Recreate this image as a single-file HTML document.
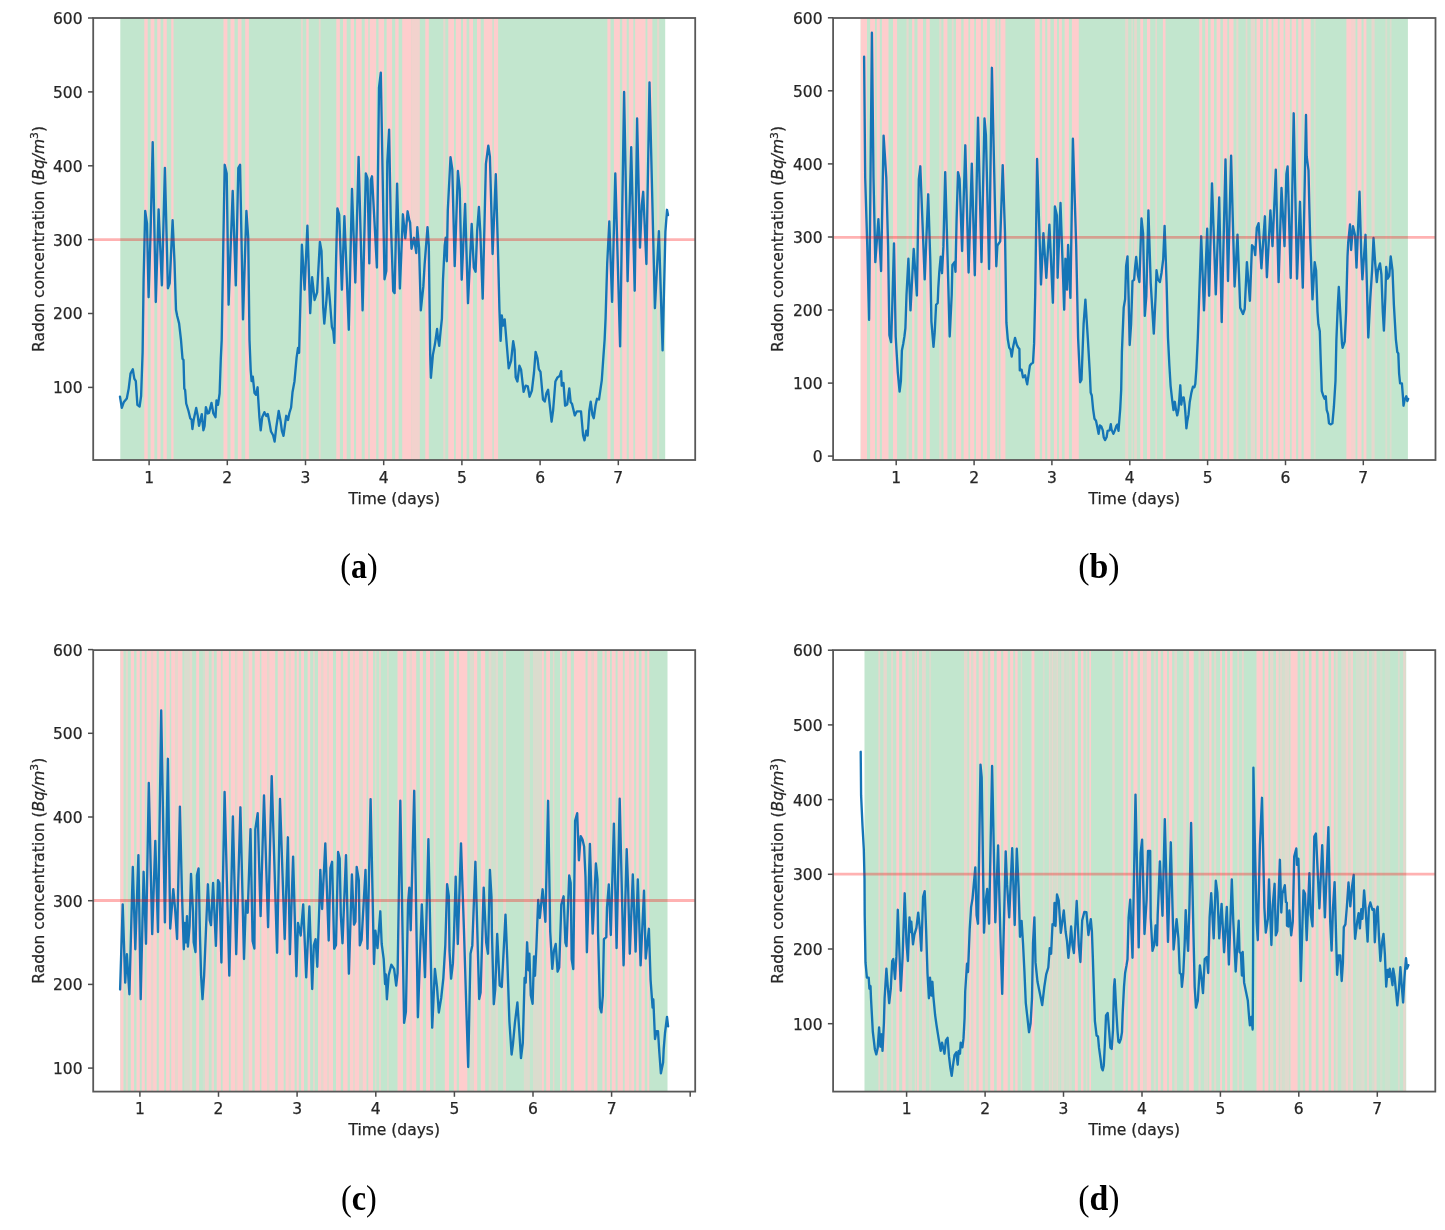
<!DOCTYPE html>
<html><head><meta charset="utf-8"><title>Radon concentration</title>
<style>
html,body{margin:0;padding:0;background:#fff;}
svg{display:block;}
text{font-family:"DejaVu Sans","Liberation Sans",sans-serif;font-size:15.5px;fill:#262626;stroke:#262626;stroke-width:0.25px;}
.cap{font-family:"Liberation Serif","DejaVu Serif",serif;font-size:35px;fill:#000;stroke:none;}
.it{font-style:italic;}
</style></head><body>
<svg width="1445" height="1230" viewBox="0 0 1445 1230">
<rect x="0" y="0" width="1445" height="1230" fill="#fff"/>

<g id="plot-a">
<rect x="120.3" y="18" width="544.9" height="442" fill="#c2e6ce"/>
<rect x="144.3" y="18" width="3.4" height="442" fill="#fecdcd"/>
<rect x="150.6" y="18" width="3.8" height="442" fill="#fecdcd"/>
<rect x="157.2" y="18" width="3.4" height="442" fill="#fecdcd"/>
<rect x="163.3" y="18" width="3.5" height="442" fill="#fecdcd"/>
<rect x="171.2" y="18" width="2.3" height="442" fill="#fecdcd"/>
<rect x="223.5" y="18" width="3.9" height="442" fill="#fecdcd"/>
<rect x="230.5" y="18" width="4" height="442" fill="#fecdcd"/>
<rect x="237.8" y="18" width="3.7" height="442" fill="#fecdcd"/>
<rect x="245.2" y="18" width="3.7" height="442" fill="#fecdcd"/>
<rect x="301" y="18" width="1.8" height="442" fill="#e6d7cd"/>
<rect x="306.3" y="18" width="2.4" height="442" fill="#fecdcd"/>
<rect x="318.8" y="18" width="1.8" height="442" fill="#e6d7cd"/>
<rect x="336.3" y="18" width="3.6" height="442" fill="#fecdcd"/>
<rect x="343" y="18" width="3.7" height="442" fill="#fecdcd"/>
<rect x="350.6" y="18" width="3.4" height="442" fill="#fecdcd"/>
<rect x="356.1" y="18" width="5.6" height="442" fill="#fecdcd"/>
<rect x="364.7" y="18" width="3.6" height="442" fill="#fecdcd"/>
<rect x="369.7" y="18" width="6.5" height="442" fill="#fecdcd"/>
<rect x="378.5" y="18" width="5.6" height="442" fill="#fecdcd"/>
<rect x="386.6" y="18" width="5.5" height="442" fill="#fecdcd"/>
<rect x="395.2" y="18" width="3.4" height="442" fill="#fecdcd"/>
<rect x="402.2" y="18" width="9" height="442" fill="#fecdcd"/>
<rect x="411.2" y="18" width="8.6" height="442" fill="#f2d2cd"/>
<rect x="425.3" y="18" width="3.5" height="442" fill="#fecdcd"/>
<rect x="443.3" y="18" width="2.1" height="442" fill="#e6d7cd"/>
<rect x="448.3" y="18" width="5.7" height="442" fill="#fecdcd"/>
<rect x="455.8" y="18" width="5.2" height="442" fill="#fecdcd"/>
<rect x="463" y="18" width="3.6" height="442" fill="#fecdcd"/>
<rect x="469.2" y="18" width="3.8" height="442" fill="#fecdcd"/>
<rect x="477" y="18" width="3.7" height="442" fill="#fecdcd"/>
<rect x="483.8" y="18" width="8.6" height="442" fill="#fecdcd"/>
<rect x="493.8" y="18" width="4.3" height="442" fill="#fecdcd"/>
<rect x="607.4" y="18" width="3.1" height="442" fill="#fecdcd"/>
<rect x="613.9" y="18" width="6" height="442" fill="#fecdcd"/>
<rect x="622.2" y="18" width="4.5" height="442" fill="#fecdcd"/>
<rect x="628.8" y="18" width="4.5" height="442" fill="#fecdcd"/>
<rect x="635.1" y="18" width="10.4" height="442" fill="#fecdcd"/>
<rect x="647.4" y="18" width="5" height="442" fill="#fecdcd"/>
<rect x="657.1" y="18" width="2.1" height="442" fill="#e6d7cd"/>
<polyline points="120,396.7 121.8,407.9 123.7,402.3 126.8,398.5 128.7,388.6 130.5,373.6 132.8,369.3 134.3,378.6 135.8,381.1 137.4,404.8 139.6,406.6 141.1,396 142.6,352.5 143.6,279.8 145.2,210.9 147,223.4 148.6,297.2 150.6,232 152.7,142.2 155.8,302 158.6,209.4 161.9,285.4 164.9,167.9 167.9,288.3 169.7,283 172.6,220.2 174.5,262 176,309.7 177.2,316 179.1,323.4 181,340 182.5,358.7 183.5,360 184.3,388.6 185.1,389.8 186.2,403.5 188.5,411 190.3,418.5 191.6,419.7 192.4,429 193.7,419.7 196.2,407.9 197.8,416 199,425.9 200.5,419.7 201.8,414.1 203.4,430.3 204.6,425.9 205.9,407.2 207.8,413.5 209,412.9 211.5,402.9 213.4,413.5 215.5,417.2 216.5,400.4 218,404.8 219.6,393.5 220.8,358.7 221.7,340 222.7,280 224.7,164.8 226.7,173.5 228.6,304.7 232.7,191 235.8,285.4 238.3,168 240.1,164.8 243,319.4 246.4,210.9 248.2,237.5 249.5,340 250.7,369.9 251.6,381.1 252.8,376.7 254.5,392.9 256,394.8 257.6,387.3 258.2,398.5 259.4,417.2 260.7,430.3 262.2,417.2 264.4,412.2 266.3,416 267.8,414.1 269.4,422.2 271,431.5 273.1,435.3 274.6,441.5 276.3,427.2 278.7,411 280.6,421 281.9,430.9 283.5,435.9 286.2,415.8 288,420 289.4,413 291.1,407.5 292.5,392.3 294.5,381.2 296.6,357.7 298,348 299.1,352.8 300.1,314.6 301.9,244.7 304.6,289.7 307.4,225.7 310.2,313.2 312.1,277.2 314.6,300 317.1,292.4 319.9,241.9 321.5,250.9 323.2,307.6 324.3,323.6 326.4,300.7 327.9,277.9 329.8,299.3 331.9,327 333.3,331.2 334.3,342.9 336.1,259.2 337.4,208.4 339.2,214.9 341.9,289.7 344.4,216.2 348.8,329.8 352,189 355.3,282.5 358.6,156.9 362.6,310.4 365.8,173.5 367.5,178.3 369.3,263.4 370.8,180 372,176.3 374.8,227.4 376.9,267.5 379,87.7 380.8,72.7 384.5,279.3 386.3,271 387.3,162.4 389.1,129.6 390.7,217.7 393.2,291 394.6,293.1 397.1,183.6 399.9,288.5 402.9,214.3 405.3,238.4 407.6,211.3 409.4,220.6 410.1,222.5 411.5,248.8 414,237.8 416.3,253 417.3,227.1 419.1,248.1 420.8,310.4 423.3,286.9 424.6,264.7 427.5,227.1 428.8,245.4 429.5,300 430.2,355 430.9,377.8 432.9,354.9 435,343.8 437.1,329 437.8,336.7 439.2,345.8 440.6,331.2 441.9,318.7 443,280 444.7,245.4 445.7,237.8 446.8,261.3 447.8,210.2 450.5,157.2 452.3,169.3 454.7,266.1 457.9,171 459.7,189.4 461.7,279.7 465.1,203.9 468,303.2 471.7,224 473.8,267.5 475.6,271.7 477.2,230.1 478.9,207 480.3,231.8 482.7,298.7 485.9,163.9 488.3,145.6 489.9,156.7 492.6,254 495.8,174.2 497.9,247.7 499.4,308.2 500.6,340.9 501.8,315.4 503.1,325.7 504.7,319.4 506.9,346.4 508.7,368.4 511.1,360.8 513.2,341.2 514.6,349.6 515.7,377.4 517.4,381.5 519.4,365.6 521.1,369.8 523.6,391.9 525.7,385.7 527.8,386.4 529.6,396.7 531.9,390.5 534,372.5 535.6,351.9 537.4,358 538.8,369.1 540.5,371.8 543,399.5 544.8,401.6 546.4,393.3 548.1,389.8 549.9,406.4 551.6,421.7 553.1,410.6 555.4,381.5 557.5,377.4 559.6,376 561.2,371.1 561.7,385.7 563.5,382.9 565.1,405.7 567.2,404.4 569.3,388.4 570.7,402.3 572,403.7 574.8,415.4 576.9,411.3 581,411.3 583.1,435.5 584.5,440.3 586.3,430.7 587.7,435.5 589.3,410.6 590.7,401.6 592.4,414.7 593.8,418.2 595.6,405 597,398.8 599,399.5 600.4,389.8 601.8,380.1 603.6,353.8 604.6,340 605.6,317.8 607.2,263.7 609.3,221.5 612.1,301.9 615.3,173.5 620.1,346.4 624.1,92 627.6,281.2 631.2,147.2 634.7,290.7 637.1,118.5 640,247.6 641.8,205 643.2,191.8 646.4,264 649.5,82.4 654.9,308.2 658.9,231.2 662.6,350.4 665.4,231.8 667,209.8 668,215" fill="none" stroke="#1575b6" stroke-width="2.35" stroke-linejoin="round" stroke-linecap="round"/>
<line x1="93.2" y1="239.6" x2="695.2" y2="239.6" stroke="#ff0000" stroke-opacity="0.3" stroke-width="2.8"/>
<rect x="93.2" y="18" width="602" height="442" fill="none" stroke="#585858" stroke-width="1.8"/>
<line x1="149.1" y1="460" x2="149.1" y2="465.2" stroke="#4c4c4c" stroke-width="1.5"/>
<text x="149.1" y="482.6" text-anchor="middle">1</text>
<line x1="227.3" y1="460" x2="227.3" y2="465.2" stroke="#4c4c4c" stroke-width="1.5"/>
<text x="227.3" y="482.6" text-anchor="middle">2</text>
<line x1="305.5" y1="460" x2="305.5" y2="465.2" stroke="#4c4c4c" stroke-width="1.5"/>
<text x="305.5" y="482.6" text-anchor="middle">3</text>
<line x1="383.7" y1="460" x2="383.7" y2="465.2" stroke="#4c4c4c" stroke-width="1.5"/>
<text x="383.7" y="482.6" text-anchor="middle">4</text>
<line x1="461.9" y1="460" x2="461.9" y2="465.2" stroke="#4c4c4c" stroke-width="1.5"/>
<text x="461.9" y="482.6" text-anchor="middle">5</text>
<line x1="540.1" y1="460" x2="540.1" y2="465.2" stroke="#4c4c4c" stroke-width="1.5"/>
<text x="540.1" y="482.6" text-anchor="middle">6</text>
<line x1="618.3" y1="460" x2="618.3" y2="465.2" stroke="#4c4c4c" stroke-width="1.5"/>
<text x="618.3" y="482.6" text-anchor="middle">7</text>
<line x1="88" y1="387.4" x2="93.2" y2="387.4" stroke="#4c4c4c" stroke-width="1.5"/>
<text x="82.6" y="393.3" text-anchor="end">100</text>
<line x1="88" y1="313.5" x2="93.2" y2="313.5" stroke="#4c4c4c" stroke-width="1.5"/>
<text x="82.6" y="319.4" text-anchor="end">200</text>
<line x1="88" y1="239.6" x2="93.2" y2="239.6" stroke="#4c4c4c" stroke-width="1.5"/>
<text x="82.6" y="245.5" text-anchor="end">300</text>
<line x1="88" y1="165.8" x2="93.2" y2="165.8" stroke="#4c4c4c" stroke-width="1.5"/>
<text x="82.6" y="171.7" text-anchor="end">400</text>
<line x1="88" y1="91.9" x2="93.2" y2="91.9" stroke="#4c4c4c" stroke-width="1.5"/>
<text x="82.6" y="97.8" text-anchor="end">500</text>
<line x1="88" y1="18" x2="93.2" y2="18" stroke="#4c4c4c" stroke-width="1.5"/>
<text x="82.6" y="23.9" text-anchor="end">600</text>
<text x="394.2" y="503.7" text-anchor="middle">Time (days)</text>
<text transform="translate(43.5,239) rotate(-90)" text-anchor="middle">Radon concentration (<tspan class="it">Bq/m</tspan><tspan dy="-5.5" font-size="10.7px">3</tspan><tspan dy="5.5">)</tspan></text>
<text class="cap" x="358.9" y="578.2" text-anchor="middle" textLength="37.3" lengthAdjust="spacingAndGlyphs">(<tspan font-weight="bold">a</tspan>)</text>
</g>
<g id="plot-b">
<rect x="860.7" y="18" width="547.2" height="442" fill="#c2e6ce"/>
<rect x="860.7" y="18" width="6.3" height="442" fill="#fecdcd"/>
<rect x="870.1" y="18" width="4.9" height="442" fill="#fecdcd"/>
<rect x="876.8" y="18" width="3" height="442" fill="#fecdcd"/>
<rect x="881.9" y="18" width="6.6" height="442" fill="#fecdcd"/>
<rect x="893" y="18" width="4.1" height="442" fill="#fecdcd"/>
<rect x="906.5" y="18" width="2.1" height="442" fill="#e6d7cd"/>
<rect x="912.1" y="18" width="2.3" height="442" fill="#fecdcd"/>
<rect x="917.5" y="18" width="5.5" height="442" fill="#fecdcd"/>
<rect x="926.2" y="18" width="3.5" height="442" fill="#fecdcd"/>
<rect x="939.3" y="18" width="2.1" height="442" fill="#e6d7cd"/>
<rect x="943.5" y="18" width="3.9" height="442" fill="#fecdcd"/>
<rect x="951.8" y="18" width="1.8" height="442" fill="#e6d7cd"/>
<rect x="956" y="18" width="5.2" height="442" fill="#fecdcd"/>
<rect x="963.6" y="18" width="4.8" height="442" fill="#fecdcd"/>
<rect x="970.1" y="18" width="4.1" height="442" fill="#fecdcd"/>
<rect x="976" y="18" width="4.9" height="442" fill="#fecdcd"/>
<rect x="982.9" y="18" width="4.2" height="442" fill="#fecdcd"/>
<rect x="989.9" y="18" width="5.5" height="442" fill="#fecdcd"/>
<rect x="997.1" y="18" width="1.8" height="442" fill="#e6d7cd"/>
<rect x="1000.5" y="18" width="4.9" height="442" fill="#fecdcd"/>
<rect x="1034.9" y="18" width="4.8" height="442" fill="#fecdcd"/>
<rect x="1042.1" y="18" width="3.1" height="442" fill="#fecdcd"/>
<rect x="1047.3" y="18" width="3.1" height="442" fill="#fecdcd"/>
<rect x="1053.9" y="18" width="3.1" height="442" fill="#fecdcd"/>
<rect x="1059" y="18" width="2.9" height="442" fill="#fecdcd"/>
<rect x="1064.6" y="18" width="4.3" height="442" fill="#fecdcd"/>
<rect x="1071.9" y="18" width="6.9" height="442" fill="#fecdcd"/>
<rect x="1125.2" y="18" width="3" height="442" fill="#e6d7cd"/>
<rect x="1131.3" y="18" width="1.7" height="442" fill="#dbdcce"/>
<rect x="1134.2" y="18" width="2.7" height="442" fill="#e6d7cd"/>
<rect x="1140.3" y="18" width="2.8" height="442" fill="#fecdcd"/>
<rect x="1147" y="18" width="3.2" height="442" fill="#fecdcd"/>
<rect x="1155.4" y="18" width="1.6" height="442" fill="#e6d7cd"/>
<rect x="1162.9" y="18" width="2.6" height="442" fill="#fecdcd"/>
<rect x="1199.3" y="18" width="2.9" height="442" fill="#fecdcd"/>
<rect x="1205.2" y="18" width="2.8" height="442" fill="#fecdcd"/>
<rect x="1210.6" y="18" width="3.4" height="442" fill="#fecdcd"/>
<rect x="1216.6" y="18" width="3.8" height="442" fill="#fecdcd"/>
<rect x="1222.9" y="18" width="4.4" height="442" fill="#fecdcd"/>
<rect x="1229.1" y="18" width="4.4" height="442" fill="#fecdcd"/>
<rect x="1236.3" y="18" width="2.1" height="442" fill="#e6d7cd"/>
<rect x="1245.7" y="18" width="1.7" height="442" fill="#e6d7cd"/>
<rect x="1250.8" y="18" width="4.2" height="442" fill="#e6d7cd"/>
<rect x="1256.6" y="18" width="3.5" height="442" fill="#fecdcd"/>
<rect x="1263" y="18" width="3.1" height="442" fill="#fecdcd"/>
<rect x="1268.4" y="18" width="3.2" height="442" fill="#fecdcd"/>
<rect x="1273.4" y="18" width="4.4" height="442" fill="#fecdcd"/>
<rect x="1279.6" y="18" width="4" height="442" fill="#fecdcd"/>
<rect x="1285.2" y="18" width="4.7" height="442" fill="#fecdcd"/>
<rect x="1291.7" y="18" width="4.4" height="442" fill="#fecdcd"/>
<rect x="1298.2" y="18" width="3.3" height="442" fill="#fecdcd"/>
<rect x="1303.7" y="18" width="7" height="442" fill="#fecdcd"/>
<rect x="1313.8" y="18" width="1.8" height="442" fill="#dbdcce"/>
<rect x="1346.4" y="18" width="4.6" height="442" fill="#fecdcd"/>
<rect x="1351" y="18" width="4.5" height="442" fill="#f5d1cd"/>
<rect x="1357.4" y="18" width="4.1" height="442" fill="#fecdcd"/>
<rect x="1363.6" y="18" width="2.8" height="442" fill="#fecdcd"/>
<rect x="1371.5" y="18" width="3.1" height="442" fill="#e6d7cd"/>
<rect x="1385.3" y="18" width="1.9" height="442" fill="#dbdcce"/>
<rect x="1389.8" y="18" width="1.7" height="442" fill="#dbdcce"/>
<polyline points="864.1,56.7 865.2,177.7 867.3,246.9 869.1,319.9 870.3,200 871.9,32.7 873.5,177.7 875.3,262.1 878.4,219.2 881.1,271.1 883.6,135.6 886.3,177.7 888.1,246.9 889.4,335.1 891.1,342.1 892.2,308.8 894,243.4 895.7,336.5 897.8,372.5 899.6,391.6 900.9,380.8 901.9,350.4 903.3,343.4 904.4,336.5 905.4,328.2 906.5,295 908.4,258.7 910.5,310.4 913.7,249 916.9,295.5 918.8,179.1 920.3,166.3 924.7,279.4 928.2,194.3 930.3,260.7 931.4,321.3 933.5,346.9 934.7,332.4 936.1,304.7 937.7,303 938.3,288 939.3,271.8 940.7,256.6 942,273.2 943.4,246.9 945.2,172.1 946.9,233 949.7,336.5 951.7,295 952.4,264.9 954.5,262.1 955.5,271.8 956.6,219.2 958,172.1 959.6,179.1 962.1,251 965.3,145.3 968.6,272.5 971.8,163.6 974.8,275.3 978,117.6 981.5,262.1 984.5,118.5 985.9,134.9 989.1,269 991.9,67.8 996.3,266.3 997.4,245.5 1000.2,241.3 1002.7,165.1 1005,233 1006.4,322.7 1007.8,339.3 1009.2,347.6 1010.6,349.7 1011.7,356.6 1013,347.6 1015,337.9 1016.8,344.8 1018.2,347.6 1019.4,349 1019.8,370.4 1021.6,369.7 1023,377.4 1025.1,375.3 1027.2,384.3 1028.5,375.3 1029.9,365.6 1031.6,363.5 1033,362.8 1034.1,343.4 1035.2,295 1037.1,159 1041,284.5 1043.4,233.2 1046.3,277.9 1049.4,224.6 1052.9,302.8 1054.9,206.5 1056.9,215.5 1057.6,277.8 1060.5,203 1064.2,309.7 1065.4,258.8 1067,289.6 1068.1,245 1070.4,297.9 1072.9,138.7 1076.2,246 1078.1,338 1080.1,382.3 1081.5,379.6 1083.6,324.2 1085.4,299.6 1087.8,338 1089.8,372.6 1090.7,392.6 1091.8,395.5 1093.1,409.1 1094.5,418.8 1096,420.7 1097.2,426.5 1098.6,433.8 1099.9,425.5 1101.3,426.5 1102.8,430.4 1103.7,437.2 1105,440.1 1106.6,437.2 1107.6,430.9 1109.6,430.4 1110.8,424.1 1111.5,429.4 1113.4,433.8 1114.9,430.4 1116.3,426 1117.3,424.6 1118.5,430.9 1119.2,421.7 1120.2,409.1 1121.2,389.7 1121.9,352 1123.7,307.6 1125.1,299.3 1126.1,266 1127.5,256.4 1128.6,296.5 1129.7,345 1131.1,324.2 1132.5,281 1134.1,279.9 1135.2,266.1 1136.2,257 1138,275.8 1139.4,282 1141.5,218.5 1143.1,233.5 1144.8,315.9 1146.3,296.5 1148.4,210.4 1150.7,282.7 1153.8,333.6 1155.6,296.5 1156.5,270.2 1157.9,279.2 1159.9,282 1161.5,273 1163.2,259.2 1164.6,225.9 1166.6,282.7 1168,338 1169.4,365.7 1170.6,385.8 1172.1,399.4 1173.5,410 1174.8,401.8 1175.9,409.1 1177.2,415.4 1178.4,410 1179.3,399.4 1180.3,385.3 1181.3,404.7 1182.2,397.9 1183.7,397.4 1184.7,404.7 1185.6,415.9 1186.4,428.4 1187.4,420.7 1188.5,414.9 1189.7,402.3 1191.4,392.6 1192.9,386.8 1194.3,387.3 1195.3,383.9 1196.4,368.5 1197.8,338 1199.2,296.5 1201.2,236.3 1204,310.4 1207.2,228.7 1209.1,295.8 1212,183.4 1215.8,294.4 1219.2,197.5 1221.7,322.1 1225.5,159.4 1228,281 1231.1,155.7 1234.6,286.5 1237.5,234.6 1240.2,307.7 1243,314 1244.7,309 1246.9,262.1 1249.9,300.8 1252,245.2 1254.1,247.9 1255.2,255.1 1256.8,228 1258.6,223.2 1261.4,268.3 1264.9,216.3 1266.9,277.3 1270.4,210.4 1272.5,246.2 1275.8,169.6 1278.6,282.1 1281.5,188 1284.5,246.2 1286.4,174 1287.6,166.5 1290.7,278 1293.7,113.3 1297,278.7 1300,201.8 1302.8,287.7 1306,114.9 1306.7,156.4 1308.5,170.3 1309.4,209 1310.1,235.8 1312.5,299.4 1314.7,262.1 1316.1,270.4 1317.5,311.9 1318.4,324.3 1319.8,331.3 1320.7,360 1321.8,391.1 1323.5,396.3 1324.6,398.9 1325.8,396.3 1326.7,409.8 1328,414 1329,423.3 1330.8,424.4 1332.4,423.3 1333.9,406.7 1335.5,380.8 1336.4,339.6 1337.8,305 1338.8,287 1340.6,318.8 1342,343.7 1342.6,347.9 1344.7,341.6 1346.1,311.9 1347.5,256.5 1348.2,242.5 1350,224.5 1351.1,250 1353,226.2 1355.1,235.6 1356.5,267.6 1359.5,191.7 1361.3,256.5 1362.4,279.4 1365.5,234.8 1366.9,284.2 1368.3,337.5 1370.3,298 1372.1,270.4 1373.5,238 1375.2,263.4 1376.8,282.1 1377.9,270.4 1380,263.4 1381.4,274.5 1382.8,311.9 1383.9,330.6 1385.3,298 1386.2,266.9 1387.6,278.7 1389.3,275.9 1390.7,256.5 1392.5,270.4 1393.9,305 1395.9,339.6 1397.3,352 1398.3,353.4 1399.1,373.5 1400.1,383.4 1401.9,383.4 1403,397.4 1403.5,405.7 1404.5,400.5 1406.3,396.3 1407.3,401 1408.2,398.9" fill="none" stroke="#1575b6" stroke-width="2.35" stroke-linejoin="round" stroke-linecap="round"/>
<line x1="833.1" y1="237.4" x2="1435.5" y2="237.4" stroke="#ff0000" stroke-opacity="0.3" stroke-width="2.8"/>
<rect x="833.1" y="18" width="602.4" height="442" fill="none" stroke="#585858" stroke-width="1.8"/>
<line x1="896.2" y1="460" x2="896.2" y2="465.2" stroke="#4c4c4c" stroke-width="1.5"/>
<text x="896.2" y="482.6" text-anchor="middle">1</text>
<line x1="974.1" y1="460" x2="974.1" y2="465.2" stroke="#4c4c4c" stroke-width="1.5"/>
<text x="974.1" y="482.6" text-anchor="middle">2</text>
<line x1="1051.9" y1="460" x2="1051.9" y2="465.2" stroke="#4c4c4c" stroke-width="1.5"/>
<text x="1051.9" y="482.6" text-anchor="middle">3</text>
<line x1="1129.8" y1="460" x2="1129.8" y2="465.2" stroke="#4c4c4c" stroke-width="1.5"/>
<text x="1129.8" y="482.6" text-anchor="middle">4</text>
<line x1="1207.6" y1="460" x2="1207.6" y2="465.2" stroke="#4c4c4c" stroke-width="1.5"/>
<text x="1207.6" y="482.6" text-anchor="middle">5</text>
<line x1="1285.5" y1="460" x2="1285.5" y2="465.2" stroke="#4c4c4c" stroke-width="1.5"/>
<text x="1285.5" y="482.6" text-anchor="middle">6</text>
<line x1="1363.3" y1="460" x2="1363.3" y2="465.2" stroke="#4c4c4c" stroke-width="1.5"/>
<text x="1363.3" y="482.6" text-anchor="middle">7</text>
<line x1="827.9" y1="456.1" x2="833.1" y2="456.1" stroke="#4c4c4c" stroke-width="1.5"/>
<text x="822.5" y="462" text-anchor="end">0</text>
<line x1="827.9" y1="383.1" x2="833.1" y2="383.1" stroke="#4c4c4c" stroke-width="1.5"/>
<text x="822.5" y="388.9" text-anchor="end">100</text>
<line x1="827.9" y1="310" x2="833.1" y2="310" stroke="#4c4c4c" stroke-width="1.5"/>
<text x="822.5" y="315.9" text-anchor="end">200</text>
<line x1="827.9" y1="237" x2="833.1" y2="237" stroke="#4c4c4c" stroke-width="1.5"/>
<text x="822.5" y="242.9" text-anchor="end">300</text>
<line x1="827.9" y1="163.9" x2="833.1" y2="163.9" stroke="#4c4c4c" stroke-width="1.5"/>
<text x="822.5" y="169.8" text-anchor="end">400</text>
<line x1="827.9" y1="90.8" x2="833.1" y2="90.8" stroke="#4c4c4c" stroke-width="1.5"/>
<text x="822.5" y="96.8" text-anchor="end">500</text>
<line x1="827.9" y1="17.8" x2="833.1" y2="17.8" stroke="#4c4c4c" stroke-width="1.5"/>
<text x="822.5" y="23.7" text-anchor="end">600</text>
<text x="1134.3" y="503.7" text-anchor="middle">Time (days)</text>
<text transform="translate(783.4,239) rotate(-90)" text-anchor="middle">Radon concentration (<tspan class="it">Bq/m</tspan><tspan dy="-5.5" font-size="10.7px">3</tspan><tspan dy="5.5">)</tspan></text>
<text class="cap" x="1098.8" y="578.2" text-anchor="middle" textLength="41.3" lengthAdjust="spacingAndGlyphs">(<tspan font-weight="bold">b</tspan>)</text>
</g>
<g id="plot-c">
<rect x="120.4" y="650.1" width="547.1" height="441.5" fill="#c2e6ce"/>
<rect x="120.4" y="650.1" width="3.1" height="441.5" fill="#fecdcd"/>
<rect x="125.8" y="650.1" width="2.1" height="441.5" fill="#e6d7cd"/>
<rect x="130.8" y="650.1" width="3.3" height="441.5" fill="#fecdcd"/>
<rect x="136.5" y="650.1" width="3.3" height="441.5" fill="#fecdcd"/>
<rect x="141.7" y="650.1" width="3.1" height="441.5" fill="#fecdcd"/>
<rect x="146.6" y="650.1" width="4.4" height="441.5" fill="#fecdcd"/>
<rect x="151" y="650.1" width="2.1" height="441.5" fill="#e6d7cd"/>
<rect x="153.1" y="650.1" width="3.6" height="441.5" fill="#fecdcd"/>
<rect x="158.8" y="650.1" width="5.4" height="441.5" fill="#fecdcd"/>
<rect x="166.1" y="650.1" width="3.6" height="441.5" fill="#fecdcd"/>
<rect x="171.2" y="650.1" width="4.4" height="441.5" fill="#fecdcd"/>
<rect x="175.6" y="650.1" width="2.4" height="441.5" fill="#e6d7cd"/>
<rect x="178" y="650.1" width="4.4" height="441.5" fill="#fecdcd"/>
<rect x="184.2" y="650.1" width="5.2" height="441.5" fill="#dadcce"/>
<rect x="189.4" y="650.1" width="2.8" height="441.5" fill="#ecd4cd"/>
<rect x="196.2" y="650.1" width="2.9" height="441.5" fill="#fecdcd"/>
<rect x="202.7" y="650.1" width="2.2" height="441.5" fill="#d1e0ce"/>
<rect x="204.9" y="650.1" width="3.9" height="441.5" fill="#efd3cd"/>
<rect x="211.6" y="650.1" width="2.4" height="441.5" fill="#f2d2cd"/>
<rect x="216.7" y="650.1" width="4.2" height="441.5" fill="#fecdcd"/>
<rect x="222.6" y="650.1" width="6.3" height="441.5" fill="#fecdcd"/>
<rect x="230.7" y="650.1" width="4.6" height="441.5" fill="#fecdcd"/>
<rect x="235.3" y="650.1" width="1.9" height="441.5" fill="#e6d7cd"/>
<rect x="237.2" y="650.1" width="5.7" height="441.5" fill="#fecdcd"/>
<rect x="245" y="650.1" width="3.6" height="441.5" fill="#dbdcce"/>
<rect x="248.6" y="650.1" width="3.7" height="441.5" fill="#fecdcd"/>
<rect x="254.7" y="650.1" width="5.2" height="441.5" fill="#fecdcd"/>
<rect x="261.4" y="650.1" width="5.7" height="441.5" fill="#fecdcd"/>
<rect x="267.1" y="650.1" width="2.1" height="441.5" fill="#e6d7cd"/>
<rect x="269.2" y="650.1" width="6" height="441.5" fill="#fecdcd"/>
<rect x="277.7" y="650.1" width="6" height="441.5" fill="#fecdcd"/>
<rect x="285.6" y="650.1" width="3.3" height="441.5" fill="#fecdcd"/>
<rect x="288.9" y="650.1" width="2.1" height="441.5" fill="#e6d7cd"/>
<rect x="291" y="650.1" width="3.6" height="441.5" fill="#fecdcd"/>
<rect x="296.7" y="650.1" width="2.1" height="441.5" fill="#fecdcd"/>
<rect x="301.1" y="650.1" width="2.9" height="441.5" fill="#fecdcd"/>
<rect x="307.6" y="650.1" width="2.6" height="441.5" fill="#fecdcd"/>
<rect x="313" y="650.1" width="1.9" height="441.5" fill="#e6d7cd"/>
<rect x="318" y="650.1" width="3.6" height="441.5" fill="#fecdcd"/>
<rect x="321.6" y="650.1" width="1.6" height="441.5" fill="#e6d7cd"/>
<rect x="323.2" y="650.1" width="3.8" height="441.5" fill="#fecdcd"/>
<rect x="327" y="650.1" width="1.9" height="441.5" fill="#e6d7cd"/>
<rect x="328.9" y="650.1" width="4.1" height="441.5" fill="#fecdcd"/>
<rect x="336" y="650.1" width="4.8" height="441.5" fill="#fecdcd"/>
<rect x="343.1" y="650.1" width="4.5" height="441.5" fill="#fecdcd"/>
<rect x="349.9" y="650.1" width="3.6" height="441.5" fill="#fecdcd"/>
<rect x="353.5" y="650.1" width="1.5" height="441.5" fill="#e6d7cd"/>
<rect x="355" y="650.1" width="4" height="441.5" fill="#fecdcd"/>
<rect x="359" y="650.1" width="3.6" height="441.5" fill="#dbdcce"/>
<rect x="362.6" y="650.1" width="3.9" height="441.5" fill="#fecdcd"/>
<rect x="368.3" y="650.1" width="4.7" height="441.5" fill="#fecdcd"/>
<rect x="375.1" y="650.1" width="1.3" height="441.5" fill="#e6d7cd"/>
<rect x="379" y="650.1" width="2" height="441.5" fill="#e6d7cd"/>
<rect x="387" y="650.1" width="1.9" height="441.5" fill="#dbdcce"/>
<rect x="397.5" y="650.1" width="5.5" height="441.5" fill="#fecdcd"/>
<rect x="406.4" y="650.1" width="3.5" height="441.5" fill="#fecdcd"/>
<rect x="409.9" y="650.1" width="1.7" height="441.5" fill="#e6d7cd"/>
<rect x="411.6" y="650.1" width="4.6" height="441.5" fill="#fecdcd"/>
<rect x="419.8" y="650.1" width="3.1" height="441.5" fill="#fecdcd"/>
<rect x="426.1" y="650.1" width="3.9" height="441.5" fill="#fecdcd"/>
<rect x="433.6" y="650.1" width="1.9" height="441.5" fill="#e6d7cd"/>
<rect x="444.8" y="650.1" width="4.2" height="441.5" fill="#fecdcd"/>
<rect x="453.8" y="650.1" width="2.9" height="441.5" fill="#fecdcd"/>
<rect x="459" y="650.1" width="8.3" height="441.5" fill="#fecdcd"/>
<rect x="469.7" y="650.1" width="4.2" height="441.5" fill="#dbdcce"/>
<rect x="473.9" y="650.1" width="3.3" height="441.5" fill="#fecdcd"/>
<rect x="480.8" y="650.1" width="4.4" height="441.5" fill="#fecdcd"/>
<rect x="488.6" y="650.1" width="3.1" height="441.5" fill="#e3d8cd"/>
<rect x="491.7" y="650.1" width="3.7" height="441.5" fill="#cee1ce"/>
<rect x="495.4" y="650.1" width="2.6" height="441.5" fill="#e0dace"/>
<rect x="503.2" y="650.1" width="2.8" height="441.5" fill="#e6d7cd"/>
<rect x="523.9" y="650.1" width="6" height="441.5" fill="#dbdcce"/>
<rect x="533" y="650.1" width="8.8" height="441.5" fill="#dbdcce"/>
<rect x="541.8" y="650.1" width="2.1" height="441.5" fill="#fecdcd"/>
<rect x="546.2" y="650.1" width="3.8" height="441.5" fill="#fecdcd"/>
<rect x="552.9" y="650.1" width="1.5" height="441.5" fill="#e6d7cd"/>
<rect x="560" y="650.1" width="2.4" height="441.5" fill="#fecdcd"/>
<rect x="563.5" y="650.1" width="1.2" height="441.5" fill="#e6d7cd"/>
<rect x="567.1" y="650.1" width="3.7" height="441.5" fill="#fecdcd"/>
<rect x="573.9" y="650.1" width="11.6" height="441.5" fill="#fecdcd"/>
<rect x="587.6" y="650.1" width="4.2" height="441.5" fill="#fecdcd"/>
<rect x="591.8" y="650.1" width="2.1" height="441.5" fill="#e6d7cd"/>
<rect x="593.9" y="650.1" width="3.4" height="441.5" fill="#fecdcd"/>
<rect x="602.4" y="650.1" width="2.3" height="441.5" fill="#fecdcd"/>
<rect x="606.7" y="650.1" width="3.3" height="441.5" fill="#fecdcd"/>
<rect x="611.8" y="650.1" width="3.8" height="441.5" fill="#fecdcd"/>
<rect x="617.6" y="650.1" width="5.3" height="441.5" fill="#fecdcd"/>
<rect x="624.7" y="650.1" width="4.7" height="441.5" fill="#fecdcd"/>
<rect x="629.4" y="650.1" width="1.8" height="441.5" fill="#e6d7cd"/>
<rect x="631.2" y="650.1" width="2.9" height="441.5" fill="#fecdcd"/>
<rect x="636.2" y="650.1" width="2.6" height="441.5" fill="#fecdcd"/>
<rect x="641.5" y="650.1" width="3.2" height="441.5" fill="#fecdcd"/>
<rect x="647.3" y="650.1" width="1.9" height="441.5" fill="#fecdcd"/>
<polyline points="120.1,989.5 122.7,904.4 125.2,982.6 126.9,954.2 129.4,994.3 132.8,867 135.3,949.3 138.4,855.1 140.7,999.2 143.6,871.8 146,943.8 148.8,783 152.2,934.1 155.3,840.9 158,932 161.2,710.4 164.9,922.4 167.9,758.8 170.2,928.6 173.3,889.1 175.1,909.2 177.1,939 179.9,806.6 182,895.4 183.8,949.3 184.7,923 185.8,942.4 187,916.1 187.9,946.6 189.6,925.8 191,873.9 193,912 193.7,942.4 195.5,952.1 196.9,875.3 198.6,868.4 200,936.9 201.1,975.6 202.5,999.2 204.1,975.6 205.8,934.1 207.9,884.3 209.7,920.3 211,925.1 213.1,882.9 215.9,945.9 218,880.1 219.4,883 221.4,962.5 224.6,792 229.3,975.6 232.9,816.5 236.2,954.2 240.4,807.3 244,959 245.9,900.9 247.7,912.7 250.5,829.1 252.6,941 254.4,948.6 255.3,829.4 257.7,813.2 260.6,916.1 264,795.5 268.1,927.2 271.7,776.1 277.1,952.8 280,799 284.7,939 287.9,837.3 289.9,954.2 293.1,856.6 296.4,976.3 298,923 300.7,935.5 303.2,904.4 306.2,977.4 309.4,906.5 312.2,989 313.8,945.4 315.6,939.1 317.3,966.8 319.4,903.8 320.3,869.9 322.1,909 325.3,843.4 328.7,940.5 330.4,868 332.1,861.8 334.2,948.8 336,945 338.1,851.9 339.7,858.6 340.8,914.9 342.5,943.3 346,855.1 348.9,973.7 351.9,874.5 354,924.6 355.4,921.8 356.7,866.9 358.8,880 359.8,945.4 361.6,939.8 365.5,869.9 367.5,948.8 370.6,799.1 374,964 375.4,930.7 377.5,948.1 380.3,911.3 381.7,944 383.7,959.2 385.1,984.1 385.8,974.4 386.9,999.3 388.6,975.8 391.3,964.7 394.1,968.9 396.2,985.5 397.6,973 400.3,800.7 404.1,1022.9 405.9,1011.8 408,903.8 409.3,887.6 410.7,930.3 414.2,790.8 417.9,1017.3 421.8,904.4 425,977.2 428.4,839.2 432.2,1027.7 434.9,968.9 437,986.9 438.8,1012.5 441.2,998 443.3,978.6 445.3,945.4 447.1,884.2 448.8,896 449.5,950.9 451.1,978.7 452.9,963.4 453.9,938.4 455.7,876.6 457.8,944 461,843.4 464,931.5 466.1,1000.7 468.2,1067 470.5,953.7 472.3,945.4 475.4,861.8 479.2,999 480.6,992.4 483.7,887.6 486.2,942.6 488,953.7 489.9,869.9 491.5,897 491.9,931.5 493.8,1004.2 495.2,989.6 497.2,934 499.7,985.5 501.8,986.9 505.5,914.6 507.3,959.2 509.4,1021.5 511.6,1054.5 512.9,1044.6 514.9,1022.9 517.4,1002.5 519.1,1028.4 521,1058.1 522.8,1043 524.6,978 525.7,982.7 527.1,942.3 528.5,970.3 529.4,953.7 530.8,995.2 532.6,1003.8 534,956.4 535,975.8 536.4,946.7 537.5,917.7 538.2,900 539.8,918 542.6,889.3 545.4,921.8 548.1,800.8 550.2,931.5 552.3,968.9 553.9,950.9 555.7,944 557.6,971.7 559.2,967.5 560.9,917.7 561.3,904.6 563.6,896.3 565.4,942.6 566.5,946.1 569.2,875.5 570.7,883.1 571.7,959.2 573.3,969 575.1,820.8 577.2,813.2 578.9,860.3 580.7,836.1 582.5,839.5 584.1,846.4 585.5,876.9 586.9,952.3 589.9,843.9 592.7,933.6 595.9,863.5 597.5,879.7 598,931.5 600,1007.6 601.4,1012.4 602.8,996 603.9,939.1 606.3,937.1 607,907.7 608.8,884.5 610.8,935 613.9,823.6 616.6,948.1 619.7,798.7 623.6,965.4 626.7,849.2 628.1,886.6 629.8,953.7 632.8,874.5 635.6,951.6 637.8,879.4 640.6,965.4 644,890.7 645.7,958.5 648.9,928.8 650.6,980 652.6,1007.6 653.3,999.3 655,1039 656.5,1031.2 658,1031.2 659.3,1052 660.9,1073.3 663.1,1062.6 663.7,1049.2 665,1033 667,1017 668.1,1026.4" fill="none" stroke="#1575b6" stroke-width="2.35" stroke-linejoin="round" stroke-linecap="round"/>
<line x1="93.2" y1="900.5" x2="695.2" y2="900.5" stroke="#ff0000" stroke-opacity="0.3" stroke-width="2.8"/>
<rect x="93.2" y="650.1" width="602" height="441.5" fill="none" stroke="#585858" stroke-width="1.8"/>
<line x1="139.9" y1="1091.6" x2="139.9" y2="1096.8" stroke="#4c4c4c" stroke-width="1.5"/>
<text x="139.9" y="1114.2" text-anchor="middle">1</text>
<line x1="218.5" y1="1091.6" x2="218.5" y2="1096.8" stroke="#4c4c4c" stroke-width="1.5"/>
<text x="218.5" y="1114.2" text-anchor="middle">2</text>
<line x1="297.1" y1="1091.6" x2="297.1" y2="1096.8" stroke="#4c4c4c" stroke-width="1.5"/>
<text x="297.1" y="1114.2" text-anchor="middle">3</text>
<line x1="375.8" y1="1091.6" x2="375.8" y2="1096.8" stroke="#4c4c4c" stroke-width="1.5"/>
<text x="375.8" y="1114.2" text-anchor="middle">4</text>
<line x1="454.4" y1="1091.6" x2="454.4" y2="1096.8" stroke="#4c4c4c" stroke-width="1.5"/>
<text x="454.4" y="1114.2" text-anchor="middle">5</text>
<line x1="533" y1="1091.6" x2="533" y2="1096.8" stroke="#4c4c4c" stroke-width="1.5"/>
<text x="533" y="1114.2" text-anchor="middle">6</text>
<line x1="611.6" y1="1091.6" x2="611.6" y2="1096.8" stroke="#4c4c4c" stroke-width="1.5"/>
<text x="611.6" y="1114.2" text-anchor="middle">7</text>
<line x1="690.2" y1="1091.6" x2="690.2" y2="1096.8" stroke="#4c4c4c" stroke-width="1.5"/>
<line x1="88" y1="1068.1" x2="93.2" y2="1068.1" stroke="#4c4c4c" stroke-width="1.5"/>
<text x="82.6" y="1074" text-anchor="end">100</text>
<line x1="88" y1="984.4" x2="93.2" y2="984.4" stroke="#4c4c4c" stroke-width="1.5"/>
<text x="82.6" y="990.3" text-anchor="end">200</text>
<line x1="88" y1="900.7" x2="93.2" y2="900.7" stroke="#4c4c4c" stroke-width="1.5"/>
<text x="82.6" y="906.6" text-anchor="end">300</text>
<line x1="88" y1="817" x2="93.2" y2="817" stroke="#4c4c4c" stroke-width="1.5"/>
<text x="82.6" y="822.9" text-anchor="end">400</text>
<line x1="88" y1="733.3" x2="93.2" y2="733.3" stroke="#4c4c4c" stroke-width="1.5"/>
<text x="82.6" y="739.2" text-anchor="end">500</text>
<line x1="88" y1="649.6" x2="93.2" y2="649.6" stroke="#4c4c4c" stroke-width="1.5"/>
<text x="82.6" y="655.5" text-anchor="end">600</text>
<text x="394.2" y="1135.3" text-anchor="middle">Time (days)</text>
<text transform="translate(43.5,870.8) rotate(-90)" text-anchor="middle">Radon concentration (<tspan class="it">Bq/m</tspan><tspan dy="-5.5" font-size="10.7px">3</tspan><tspan dy="5.5">)</tspan></text>
<text class="cap" x="358.9" y="1210.2" text-anchor="middle" textLength="35.8" lengthAdjust="spacingAndGlyphs">(<tspan font-weight="bold">c</tspan>)</text>
</g>
<g id="plot-d">
<rect x="864.5" y="650.1" width="541.7" height="441.5" fill="#c2e6ce"/>
<rect x="878.4" y="650.1" width="1.8" height="441.5" fill="#e6d7cd"/>
<rect x="883.5" y="650.1" width="3.4" height="441.5" fill="#e6d7cd"/>
<rect x="891.1" y="650.1" width="2" height="441.5" fill="#e6d7cd"/>
<rect x="896.3" y="650.1" width="2.8" height="441.5" fill="#fecdcd"/>
<rect x="902.2" y="650.1" width="3.4" height="441.5" fill="#fecdcd"/>
<rect x="908.5" y="650.1" width="3.6" height="441.5" fill="#dbdcce"/>
<rect x="914.7" y="650.1" width="1.5" height="441.5" fill="#e6d7cd"/>
<rect x="917.1" y="650.1" width="1.7" height="441.5" fill="#fecdcd"/>
<rect x="922" y="650.1" width="3.8" height="441.5" fill="#e6d7cd"/>
<rect x="929.2" y="650.1" width="1.8" height="441.5" fill="#dbdcce"/>
<rect x="964" y="650.1" width="3.3" height="441.5" fill="#e6d7cd"/>
<rect x="969.2" y="650.1" width="1.9" height="441.5" fill="#fecdcd"/>
<rect x="971.1" y="650.1" width="2.2" height="441.5" fill="#dbdcce"/>
<rect x="973.3" y="650.1" width="3" height="441.5" fill="#fecdcd"/>
<rect x="978.7" y="650.1" width="4" height="441.5" fill="#fecdcd"/>
<rect x="985.1" y="650.1" width="2.8" height="441.5" fill="#e6d7cd"/>
<rect x="990.3" y="650.1" width="3.8" height="441.5" fill="#fecdcd"/>
<rect x="996.7" y="650.1" width="4.4" height="441.5" fill="#fecdcd"/>
<rect x="1003.3" y="650.1" width="4.4" height="441.5" fill="#fecdcd"/>
<rect x="1010.1" y="650.1" width="3.1" height="441.5" fill="#fecdcd"/>
<rect x="1015.2" y="650.1" width="2.4" height="441.5" fill="#fecdcd"/>
<rect x="1020.7" y="650.1" width="1.5" height="441.5" fill="#e6d7cd"/>
<rect x="1031.5" y="650.1" width="2.9" height="441.5" fill="#fecdcd"/>
<rect x="1042.9" y="650.1" width="1.7" height="441.5" fill="#d7ddce"/>
<rect x="1048.9" y="650.1" width="1.3" height="441.5" fill="#e6d7cd"/>
<rect x="1050.2" y="650.1" width="1.6" height="441.5" fill="#d7ddce"/>
<rect x="1051.8" y="650.1" width="1.3" height="441.5" fill="#e6d7cd"/>
<rect x="1053.1" y="650.1" width="3.3" height="441.5" fill="#d4dece"/>
<rect x="1056.4" y="650.1" width="1.9" height="441.5" fill="#e3d8cd"/>
<rect x="1058.3" y="650.1" width="1.7" height="441.5" fill="#cee1ce"/>
<rect x="1061.2" y="650.1" width="3.3" height="441.5" fill="#e0dace"/>
<rect x="1064.5" y="650.1" width="1.5" height="441.5" fill="#cbe2ce"/>
<rect x="1066" y="650.1" width="2.7" height="441.5" fill="#d1e0ce"/>
<rect x="1068.7" y="650.1" width="3.1" height="441.5" fill="#dadcce"/>
<rect x="1074.9" y="650.1" width="2.9" height="441.5" fill="#fecdcd"/>
<rect x="1081" y="650.1" width="2.4" height="441.5" fill="#fecdcd"/>
<rect x="1085.8" y="650.1" width="1.6" height="441.5" fill="#e6d7cd"/>
<rect x="1089.3" y="650.1" width="1.7" height="441.5" fill="#fecdcd"/>
<rect x="1112.3" y="650.1" width="2.3" height="441.5" fill="#e6d7cd"/>
<rect x="1123.4" y="650.1" width="2.1" height="441.5" fill="#fecdcd"/>
<rect x="1127.9" y="650.1" width="2.9" height="441.5" fill="#fecdcd"/>
<rect x="1133.4" y="650.1" width="4.1" height="441.5" fill="#fecdcd"/>
<rect x="1140" y="650.1" width="3.2" height="441.5" fill="#fecdcd"/>
<rect x="1143.2" y="650.1" width="3.4" height="441.5" fill="#dbdcce"/>
<rect x="1146.6" y="650.1" width="4.5" height="441.5" fill="#fecdcd"/>
<rect x="1153.7" y="650.1" width="2.1" height="441.5" fill="#e6d7cd"/>
<rect x="1158" y="650.1" width="2.7" height="441.5" fill="#fecdcd"/>
<rect x="1163.2" y="650.1" width="3.8" height="441.5" fill="#fecdcd"/>
<rect x="1169" y="650.1" width="3.1" height="441.5" fill="#fecdcd"/>
<rect x="1174.4" y="650.1" width="2.6" height="441.5" fill="#e6d7cd"/>
<rect x="1183.3" y="650.1" width="3.1" height="441.5" fill="#e6d7cd"/>
<rect x="1189" y="650.1" width="4.7" height="441.5" fill="#fecdcd"/>
<rect x="1198.5" y="650.1" width="2.1" height="441.5" fill="#e6d7cd"/>
<rect x="1204" y="650.1" width="4.2" height="441.5" fill="#dbdcce"/>
<rect x="1209.2" y="650.1" width="2.3" height="441.5" fill="#fecdcd"/>
<rect x="1214.1" y="650.1" width="2.1" height="441.5" fill="#e6d7cd"/>
<rect x="1220.1" y="650.1" width="1.9" height="441.5" fill="#fecdcd"/>
<rect x="1225.1" y="650.1" width="2.1" height="441.5" fill="#fecdcd"/>
<rect x="1230" y="650.1" width="2.6" height="441.5" fill="#fecdcd"/>
<rect x="1237.3" y="650.1" width="1.8" height="441.5" fill="#e6d7cd"/>
<rect x="1241.9" y="650.1" width="1.9" height="441.5" fill="#e6d7cd"/>
<rect x="1256.5" y="650.1" width="6.2" height="441.5" fill="#fecdcd"/>
<rect x="1264.6" y="650.1" width="3.8" height="441.5" fill="#fecdcd"/>
<rect x="1270" y="650.1" width="3.4" height="441.5" fill="#e6d7cd"/>
<rect x="1276" y="650.1" width="2.7" height="441.5" fill="#f5d1cd"/>
<rect x="1279.7" y="650.1" width="2.4" height="441.5" fill="#e3d8cd"/>
<rect x="1282.1" y="650.1" width="2.4" height="441.5" fill="#d4dece"/>
<rect x="1284.5" y="650.1" width="4.9" height="441.5" fill="#e0dace"/>
<rect x="1290.5" y="650.1" width="7.1" height="441.5" fill="#fecdcd"/>
<rect x="1300.3" y="650.1" width="2.6" height="441.5" fill="#e6d7cd"/>
<rect x="1305.2" y="650.1" width="3.6" height="441.5" fill="#fecdcd"/>
<rect x="1311.5" y="650.1" width="4.3" height="441.5" fill="#fecdcd"/>
<rect x="1318.5" y="650.1" width="4.1" height="441.5" fill="#fecdcd"/>
<rect x="1324.6" y="650.1" width="3.9" height="441.5" fill="#fecdcd"/>
<rect x="1331.1" y="650.1" width="2.7" height="441.5" fill="#fecdcd"/>
<rect x="1335.6" y="650.1" width="2.1" height="441.5" fill="#e6d7cd"/>
<rect x="1341.2" y="650.1" width="4.4" height="441.5" fill="#dadcce"/>
<rect x="1345.6" y="650.1" width="2.7" height="441.5" fill="#f5d1cd"/>
<rect x="1348.3" y="650.1" width="2.1" height="441.5" fill="#dadcce"/>
<rect x="1350.4" y="650.1" width="2.6" height="441.5" fill="#f2d2cd"/>
<rect x="1355.8" y="650.1" width="5.3" height="441.5" fill="#d4dece"/>
<rect x="1361.1" y="650.1" width="3.4" height="441.5" fill="#dddbce"/>
<rect x="1366.9" y="650.1" width="2.1" height="441.5" fill="#ecd4cd"/>
<rect x="1371.7" y="650.1" width="2.5" height="441.5" fill="#d4dece"/>
<rect x="1374.2" y="650.1" width="2.4" height="441.5" fill="#ecd4cd"/>
<rect x="1380" y="650.1" width="2.4" height="441.5" fill="#d1e0ce"/>
<rect x="1384.8" y="650.1" width="5.4" height="441.5" fill="#cee1ce"/>
<rect x="1397.9" y="650.1" width="1.9" height="441.5" fill="#dadcce"/>
<rect x="1403.2" y="650.1" width="2.5" height="441.5" fill="#e6d7cd"/>
<polyline points="860.7,751.8 861.1,795.4 862.5,825.8 863.8,849.3 864.5,878.4 864.7,915.4 865.5,962.4 866.9,977.6 868.7,977.6 869.4,988.7 870.5,986 871,998.4 872.8,1031.5 874.9,1049.5 876.3,1054.4 877.7,1048.1 879.1,1027.4 880.4,1046.7 881.6,1034.3 882.5,1050.9 883.9,1023.2 884.6,998.4 886.4,968.7 887.6,984.6 889.2,1003.2 890.8,988.7 892.2,961 893.3,959 895,979 896.4,956.9 897.8,909.8 899.1,943 900.8,990.8 902.6,956.9 904.7,893.3 906.5,943 907.9,961 909.5,917.4 910.5,932 911.3,921.6 913,944.4 914.4,934.7 916.4,927.8 918.2,912.6 919.9,929.2 921.3,950.7 923.1,896.7 924.7,891.1 926.1,929.2 927.5,973.5 928.9,998.3 930,977.6 931.4,995.6 932.4,981.8 933.4,997 935.1,1015 936.5,1025 938.6,1038.4 940.7,1050.9 942,1042.6 944.5,1053.7 945.9,1040.5 947.6,1037.8 949,1056.4 950.3,1067.5 951.7,1075.8 953.1,1064.7 954.5,1055.1 956.3,1052.3 957.7,1064.7 958.7,1050.9 960,1053.7 960.7,1042.6 962.4,1047.4 963.5,1038.4 964.6,1017.7 965.2,991.5 967,963.8 968,972 969.7,929.2 971.1,907.1 972.5,898.8 975.3,867.4 976.6,915.4 978,923.7 980.5,764.6 981.7,777.4 984,932.7 985.6,901.5 987.2,889 989.1,923.7 992.1,766 995.3,922.3 998.1,845.5 1000.2,929.2 1002.2,993.9 1005.7,851.4 1007.1,884.9 1009.2,917.4 1012.2,848.2 1014.7,925 1016.8,848.7 1018.6,887.7 1020,936.8 1021.6,920.9 1023,943 1024.4,970.7 1025.8,1003.2 1027.2,1015.6 1029,1032.2 1030.6,1023.2 1032,998.4 1033,943 1034.4,917.4 1035.5,962.4 1037.5,981.8 1040.3,995.6 1042.2,1005 1044.3,987 1046.2,974.4 1048.3,967.5 1049.7,948.1 1051.1,953.7 1052.5,924.3 1053.8,925 1054.5,903 1055.5,926 1057,894.5 1058.7,900.4 1060.8,932.8 1062.1,923.2 1063.8,910.5 1065.6,931.5 1067,941.2 1068.4,957.8 1069.8,944 1071.1,926.5 1072.5,945.4 1073.9,953 1076.7,901 1078.8,945.4 1080.4,962 1082.2,920.4 1084.3,912 1086.4,912.1 1088.4,935 1090.8,919.1 1091.9,931.5 1092.9,959.2 1094,993.8 1094.9,1021.1 1096.6,1035.5 1098,1036.5 1099,1047.7 1100.5,1058.7 1101.6,1067.6 1102.7,1070.4 1103.8,1065.4 1104.9,1043.2 1106,1015.5 1107.7,1013 1109.3,1033 1110.4,1047.7 1111.7,1049 1113,1030 1114,986.9 1114.7,979.3 1116.1,1007.6 1117.6,1032.1 1118.4,1041.6 1119.5,1042.7 1120.9,1038.8 1122,1032.1 1122.6,1014.6 1124,986.9 1125.1,973 1126.5,965.4 1127.5,959.2 1128.6,917.7 1130.2,899.7 1132.5,957.8 1135.5,794.6 1138.7,947.4 1140.6,853 1142.1,839.6 1144.5,934 1146.6,900 1148,851 1150.2,851 1150.7,917.7 1152.5,950.9 1154.2,945 1155.6,925.5 1157,945.4 1157.7,915 1159.9,861.4 1162.5,915.8 1164.8,819.1 1168,941.9 1170.8,842.3 1173.6,949.5 1176.6,919.1 1178.4,938.4 1179.8,973 1181.2,974.4 1181.9,986.9 1183.3,973 1184.6,945.4 1185.7,910.1 1186.7,931.5 1188.1,950.9 1189.5,903.8 1191.1,822.9 1193.4,931.5 1194.7,986.9 1196,1007.6 1197.8,1000.7 1199.9,965.4 1201.2,975.8 1203,993.1 1204.7,959.2 1206.8,957.1 1208.2,973 1209.6,917.7 1211.2,893.2 1213.7,938.4 1215.8,880.7 1217.4,893 1219.2,938.4 1221.6,903.9 1224.1,952.3 1226.8,906.9 1228.9,964.5 1231.8,879.4 1233.3,921.5 1235.7,971.5 1238.7,920.7 1239.5,952 1240.9,953.4 1241.9,975.5 1242.7,952 1244.1,982.4 1245.8,990.7 1247.8,1000.4 1249.2,1018.4 1249.9,1025.3 1251.3,1017 1252.7,1029.5 1253.1,949.2 1253.4,767.7 1254.8,840 1256.6,921.5 1257.8,940.2 1259.9,845 1262,797.8 1264.4,907.7 1265.8,932.6 1267.9,918.8 1269,879.4 1271.4,945 1272.8,904.9 1274.6,883.8 1275.8,935.4 1277.3,931.2 1279.9,859.8 1281.3,912.5 1282.4,893.8 1284.8,885.2 1285.9,902.1 1286.8,902.8 1287,925.7 1288.4,926.4 1289.4,910.4 1291.2,935.4 1292.8,921.5 1294.2,856.6 1296.3,848.5 1297,864.9 1298.4,858.7 1299,880 1300.8,981 1302.5,921.5 1303.5,890.4 1305,893.8 1306.7,940.2 1308,907.7 1309.4,873.2 1310.8,914.6 1312.5,926.4 1314.3,836.5 1315.9,833.5 1319.4,908.4 1322.2,845.2 1324.9,917.4 1328.4,827.2 1330.2,921.5 1331.6,950.6 1333,907.7 1334.6,882.1 1335.7,921.5 1337.1,974.8 1338.5,955.4 1340.2,955.4 1341.7,981 1342.9,963 1343.8,927.1 1345.4,924.3 1346.8,907.7 1348.5,882.5 1350.3,906.3 1352,887 1353.7,875 1354.4,921.5 1355.1,938.8 1357.2,921.5 1358.6,913.2 1359.9,928.4 1361.3,909.1 1362.4,918.8 1364.1,890.4 1365.5,907.7 1367.6,941.6 1368.9,907.7 1370.3,902.5 1372.4,909.8 1373.8,909.1 1374.8,942.3 1376.6,910.4 1377.7,906.7 1378.9,935.4 1380.4,961 1382.1,942.3 1383.5,934 1384.9,954.7 1386.2,986.6 1387.6,970 1389,976.9 1389.7,968.6 1391.1,975.5 1392.5,985.2 1393.2,968.6 1394.6,976.9 1395.9,990.7 1397.3,1005.3 1399,988 1400.4,967.2 1401.9,988 1403.1,1002.5 1404.5,976.9 1406,958.2 1407,968.6 1408.4,965.1" fill="none" stroke="#1575b6" stroke-width="2.35" stroke-linejoin="round" stroke-linecap="round"/>
<line x1="833.1" y1="874.2" x2="1435.3" y2="874.2" stroke="#ff0000" stroke-opacity="0.3" stroke-width="2.8"/>
<rect x="833.1" y="650.1" width="602.2" height="441.5" fill="none" stroke="#585858" stroke-width="1.8"/>
<line x1="906.6" y1="1091.6" x2="906.6" y2="1096.8" stroke="#4c4c4c" stroke-width="1.5"/>
<text x="906.6" y="1114.2" text-anchor="middle">1</text>
<line x1="985.1" y1="1091.6" x2="985.1" y2="1096.8" stroke="#4c4c4c" stroke-width="1.5"/>
<text x="985.1" y="1114.2" text-anchor="middle">2</text>
<line x1="1063.5" y1="1091.6" x2="1063.5" y2="1096.8" stroke="#4c4c4c" stroke-width="1.5"/>
<text x="1063.5" y="1114.2" text-anchor="middle">3</text>
<line x1="1142" y1="1091.6" x2="1142" y2="1096.8" stroke="#4c4c4c" stroke-width="1.5"/>
<text x="1142" y="1114.2" text-anchor="middle">4</text>
<line x1="1220.4" y1="1091.6" x2="1220.4" y2="1096.8" stroke="#4c4c4c" stroke-width="1.5"/>
<text x="1220.4" y="1114.2" text-anchor="middle">5</text>
<line x1="1298.8" y1="1091.6" x2="1298.8" y2="1096.8" stroke="#4c4c4c" stroke-width="1.5"/>
<text x="1298.8" y="1114.2" text-anchor="middle">6</text>
<line x1="1377.3" y1="1091.6" x2="1377.3" y2="1096.8" stroke="#4c4c4c" stroke-width="1.5"/>
<text x="1377.3" y="1114.2" text-anchor="middle">7</text>
<line x1="827.9" y1="1023.7" x2="833.1" y2="1023.7" stroke="#4c4c4c" stroke-width="1.5"/>
<text x="822.5" y="1029.6" text-anchor="end">100</text>
<line x1="827.9" y1="949" x2="833.1" y2="949" stroke="#4c4c4c" stroke-width="1.5"/>
<text x="822.5" y="954.9" text-anchor="end">200</text>
<line x1="827.9" y1="874.3" x2="833.1" y2="874.3" stroke="#4c4c4c" stroke-width="1.5"/>
<text x="822.5" y="880.2" text-anchor="end">300</text>
<line x1="827.9" y1="799.6" x2="833.1" y2="799.6" stroke="#4c4c4c" stroke-width="1.5"/>
<text x="822.5" y="805.5" text-anchor="end">400</text>
<line x1="827.9" y1="724.9" x2="833.1" y2="724.9" stroke="#4c4c4c" stroke-width="1.5"/>
<text x="822.5" y="730.8" text-anchor="end">500</text>
<line x1="827.9" y1="650.2" x2="833.1" y2="650.2" stroke="#4c4c4c" stroke-width="1.5"/>
<text x="822.5" y="656.1" text-anchor="end">600</text>
<text x="1134.2" y="1135.3" text-anchor="middle">Time (days)</text>
<text transform="translate(783.4,870.8) rotate(-90)" text-anchor="middle">Radon concentration (<tspan class="it">Bq/m</tspan><tspan dy="-5.5" font-size="10.7px">3</tspan><tspan dy="5.5">)</tspan></text>
<text class="cap" x="1098.8" y="1210.2" text-anchor="middle" textLength="41.3" lengthAdjust="spacingAndGlyphs">(<tspan font-weight="bold">d</tspan>)</text>
</g>
</svg></body></html>
